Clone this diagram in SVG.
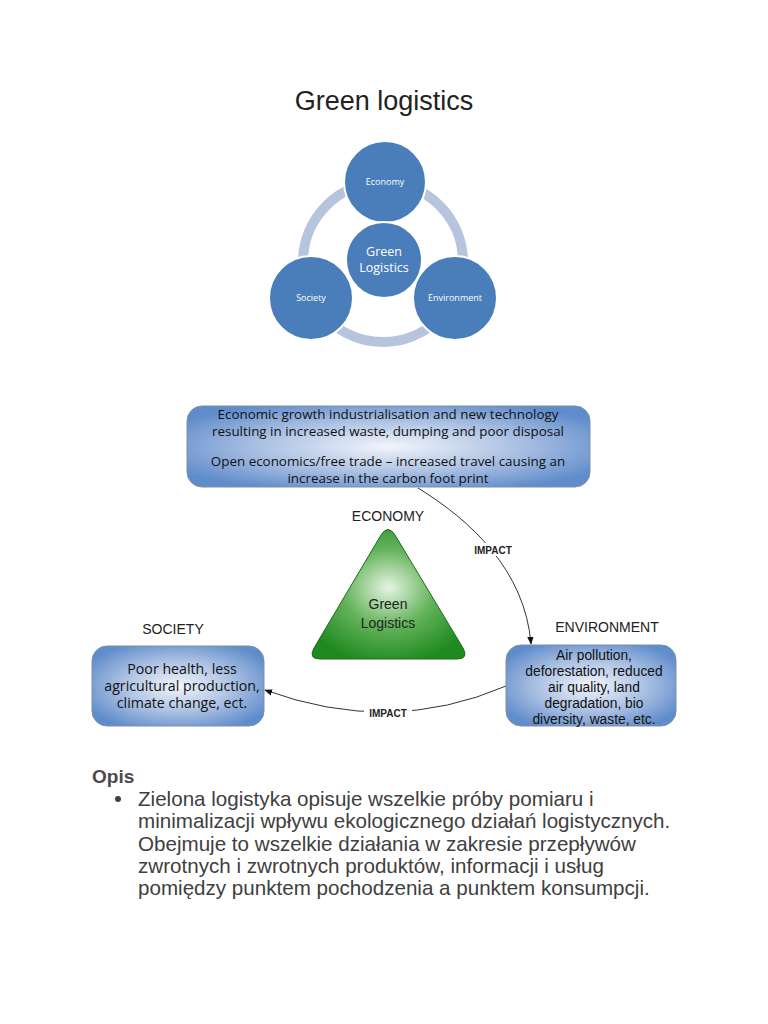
<svg xmlns="http://www.w3.org/2000/svg" width="768" height="1024" viewBox="0 0 768 1024">
<defs>
<radialGradient id="blueG" cx="50%" cy="50%" r="60%">
<stop offset="0" stop-color="#f2f5fb"/>
<stop offset="0.55" stop-color="#a9bfe2"/>
<stop offset="1" stop-color="#5f8ccb"/>
</radialGradient>
<radialGradient id="greenG" cx="50%" cy="45%" r="60%">
<stop offset="0" stop-color="#e6f4e2"/>
<stop offset="0.5" stop-color="#63b35a"/>
<stop offset="1" stop-color="#1f8a1f"/>
</radialGradient>
<marker id="arr" viewBox="0 0 10 10" refX="9" refY="5" markerWidth="8" markerHeight="8" orient="auto-start-reverse" markerUnits="userSpaceOnUse">
<path d="M0,1 L10,5 L0,9 z" fill="#111"/>
</marker>
<style>
.circ{fill:#4a7ebb;stroke:#ffffff;stroke-width:2}
.ct{font-family:"Open Sans","Liberation Sans",sans-serif;fill:#ffffff;text-anchor:middle}
.box{fill:url(#blueG);stroke:#7f8fa6;stroke-width:1}
.bt{font-family:"Open Sans","Liberation Sans",sans-serif;font-size:13.4px;fill:#111;text-anchor:middle}
.bt2{font-family:"Open Sans","Liberation Sans",sans-serif;font-size:14.2px;fill:#111;text-anchor:middle}
.bt3{font-family:"Liberation Sans",sans-serif;font-size:13.8px;fill:#111;text-anchor:middle}
.lbl{font-family:"Liberation Sans",sans-serif;font-size:14px;fill:#222;text-anchor:middle}
.imp{font-family:"Liberation Sans",sans-serif;font-size:10px;font-weight:bold;fill:#222;text-anchor:middle}
.con{fill:none;stroke:#333;stroke-width:1}
.body{font-family:"Liberation Sans",sans-serif;font-size:20.6px;fill:#404040}
</style>
</defs>
<rect width="768" height="1024" fill="#ffffff"/>
<text x="384" y="110" font-family="Liberation Sans,sans-serif" font-size="27" fill="#222" text-anchor="middle">Green logistics</text>

<g id="cycle">
<circle cx="383" cy="262" r="80" fill="none" stroke="#b7c4dd" stroke-width="10"/>
</g>
<g id="economy-circle"><circle class="circ" cx="385" cy="182" r="41"/><text class="ct" x="385" y="185" font-size="9">Economy</text></g>
<g id="green-circle"><circle class="circ" cx="384" cy="260" r="38"/><text class="ct" x="384" y="256" font-size="12.5">Green</text><text class="ct" x="384" y="272" font-size="12.5">Logistics</text></g>
<g id="society-circle"><circle class="circ" cx="311" cy="298" r="42"/><text class="ct" x="311" y="301" font-size="9">Society</text></g>
<g id="environment-circle"><circle class="circ" cx="455" cy="298" r="42"/><text class="ct" x="455" y="301" font-size="9">Environment</text></g>

<g id="connectors">
<path class="con" d="M418,488 C470,520 525,570 531,644" marker-end="url(#arr)"/>
<rect x="470" y="543" width="46" height="13" fill="#ffffff"/>
<text class="imp" x="493" y="554">IMPACT</text>
<path class="con" d="M506,686 Q390,736 265,690" marker-end="url(#arr)"/>
<rect x="364" y="706" width="48" height="13" fill="#ffffff"/>
<text class="imp" x="388" y="717">IMPACT</text>
</g>

<g id="economy-box">
<rect class="box" x="187" y="406" width="403" height="81" rx="15"/>
<text class="bt" x="388" y="419">Economic growth industrialisation and new technology</text>
<text class="bt" x="388" y="436">resulting in increased waste, dumping and poor disposal</text>
<text class="bt" x="388" y="466">Open economics/free trade – increased travel causing an</text>
<text class="bt" x="388" y="483">increase in the carbon foot print</text>
</g>

<g id="triangle">
<text class="lbl" x="388" y="521">ECONOMY</text>
<path d="M381,535 Q388,524 395,535 L463,648 Q469,659 457,659 L320,659 Q308,659 314,648 Z" fill="url(#greenG)" stroke="#1c6b1c" stroke-width="1"/>
<text class="lbl" x="388" y="609" font-size="14">Green</text>
<text class="lbl" x="388" y="628" font-size="14">Logistics</text>
</g>

<g id="society">
<text class="lbl" x="173" y="634">SOCIETY</text>
<rect class="box" x="92" y="646" width="172" height="80" rx="15"/>
<text class="bt2" x="182" y="674">Poor health, less</text>
<text class="bt2" x="182" y="691">agricultural production,</text>
<text class="bt2" x="182" y="708">climate change, ect.</text>
</g>

<g id="environment">
<text class="lbl" x="607" y="632">ENVIRONMENT</text>
<rect class="box" x="506" y="645" width="170" height="81" rx="15"/>
<text class="bt3" x="594" y="660">Air pollution,</text>
<text class="bt3" x="594" y="676">deforestation, reduced</text>
<text class="bt3" x="594" y="692">air quality, land</text>
<text class="bt3" x="594" y="708">degradation, bio</text>
<text class="bt3" x="594" y="724">diversity, waste, etc.</text>
</g>

<g id="description">
<text x="92" y="783" font-family="Liberation Sans,sans-serif" font-size="19" font-weight="bold" fill="#4a4a4a">Opis</text>
<circle cx="118" cy="799" r="3" fill="#404040"/>
<text class="body" x="138" y="806">Zielona logistyka opisuje wszelkie próby pomiaru i</text>
<text class="body" x="138" y="828">minimalizacji wpływu ekologicznego działań logistycznych.</text>
<text class="body" x="138" y="851">Obejmuje to wszelkie działania w zakresie przepływów</text>
<text class="body" x="138" y="873">zwrotnych i zwrotnych produktów, informacji i usług</text>
<text class="body" x="138" y="895">pomiędzy punktem pochodzenia a punktem konsumpcji.</text>
</g>
</svg>
